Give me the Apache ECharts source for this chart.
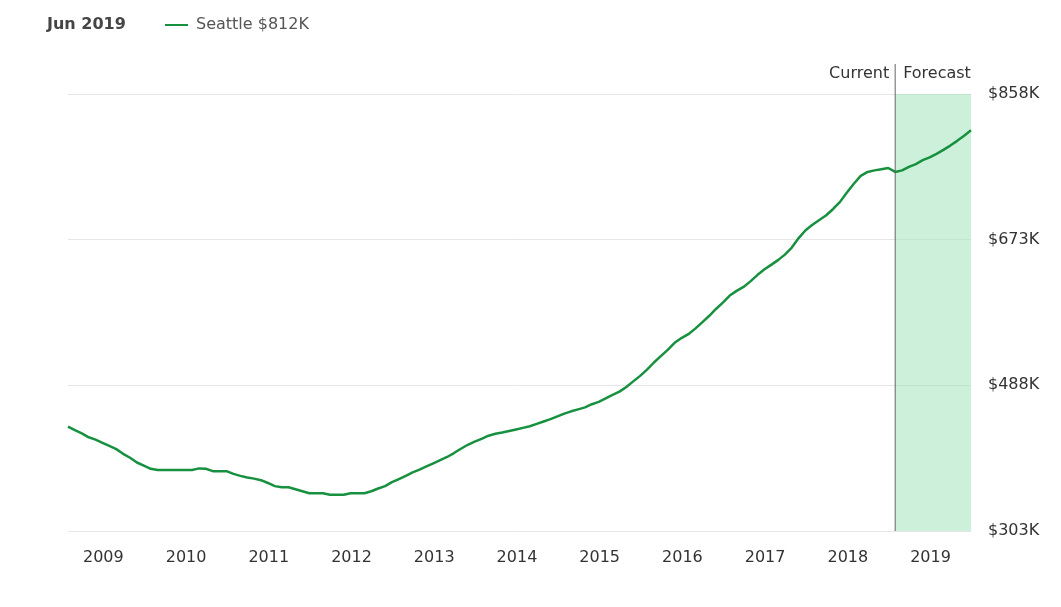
<!DOCTYPE html>
<html>
<head>
<meta charset="utf-8">
<script src="https://cdn.jsdelivr.net/npm/echarts@6/dist/echarts.min.js"></script>
<style>
html,body{margin:0;padding:0;background:#fff;}
#chart{width:1061px;height:607px;}
</style>
</head>
<body>
<div id="chart"></div>
<script>
// Monthly categories Jul 2008 .. Jun 2019
const months = (function(){
  const out = [];
  let y = 2008, m = 7;
  while (y < 2019 || (y === 2019 && m <= 6)) {
    out.push(y + '-' + String(m).padStart(2,'0'));
    m++; if (m > 12) { m = 1; y++; }
  }
  return out;
})();

// Seattle median home value, $K
const seattleValues = [
  435.5, 431, 427, 422, 419, 415, 411, 407, 401, 396, 390, 386,
  382, 380.5, 380.5, 380.5, 380.5, 380.5, 380.5, 382.5, 382, 379, 379, 379,
  375.5, 373, 371, 369.5, 367.5, 364, 360, 358.5, 358.5, 356, 353.5, 351,
  351, 351, 349, 349, 349, 351, 351, 351, 353.5, 357, 360, 365,
  369, 373, 377.5, 381, 385, 389, 393, 397, 402, 407.5, 412.5, 416.5,
  420, 424, 426.5, 428, 430, 432, 434, 436, 439, 442, 445, 448.5,
  452, 455, 457.5, 460, 464, 467, 471.5, 476, 480, 486, 493, 500,
  508, 517, 525, 533, 542, 548, 553, 560, 568, 576, 585, 593,
  602, 608, 613, 620, 628, 635, 641, 647, 654, 663, 675, 685,
  692, 698, 704, 712, 721, 733, 744, 754, 759, 761, 762.5, 764,
  759, 761, 765.5, 769, 774, 777.5, 782, 787, 792.5, 798.5, 805, 812
];

const yTicks = [303, 488, 673, 858];
const currentMonth = '2018-07';
const headerDate = 'Jun 2019';
const seriesName = 'Seattle';

const FONT = '"DejaVu Sans", sans-serif';
const GREEN = '#17913f';

const chart = echarts.init(document.getElementById('chart'), null, {renderer: 'canvas'});

const option = {
  animation: false,
  backgroundColor: '#fff',
  textStyle: {fontFamily: FONT},
  title: {
    text: headerDate,
    left: 47, top: 17, padding: 0,
    textStyle: {fontSize: 16, fontWeight: 'bold', color: '#444', fontFamily: FONT}
  },
  legend: {
    left: 165, top: 17, padding: 0,
    icon: 'rect', itemWidth: 23, itemHeight: 2, itemGap: 8,
    data: [seriesName],
    formatter: function(name){ return name + ' $' + seattleValues[seattleValues.length-1] + 'K'; },
    textStyle: {fontSize: 16, color: '#555', fontFamily: FONT, padding: [0,0,0,3]}
  },
  grid: {left: 68, right: 90, top: 94, bottom: 76, containLabel: false},
  xAxis: {
    type: 'category',
    data: months,
    boundaryGap: false,
    axisLine: {show: false},
    axisTick: {show: false},
    splitLine: {show: false},
    axisLabel: {
      interval: function(i, v){ return v.slice(5) === '01'; },
      formatter: function(v){ return v.slice(0,4); },
      fontSize: 16, color: '#333', fontFamily: FONT, margin: 19,
      padding: [0, 12, 0, 0]
    }
  },
  yAxis: {
    type: 'value',
    position: 'right',
    min: yTicks[0], max: yTicks[yTicks.length-1],
    axisLine: {show: false},
    axisTick: {show: false, customValues: yTicks},
    splitLine: {show: true, lineStyle: {color: '#e6e6e6', width: 1}},
    axisLabel: {
      customValues: yTicks,
      formatter: function(v){ return '$' + v + 'K'; },
      fontSize: 16, color: '#333', fontFamily: FONT, margin: 17
    }
  },
  series: [{
    name: seriesName,
    type: 'line',
    data: seattleValues,
    showSymbol: false,
    symbol: 'none',
    lineStyle: {color: GREEN, width: 2.5},
    itemStyle: {color: GREEN},
    z: 5,
    markArea: {
      silent: true,
      itemStyle: {color: 'rgba(155,226,182,0.5)'},
      data: [[{xAxis: currentMonth}, {xAxis: months[months.length-1]}]]
    }
  }]
};

chart.setOption(option);

const xCur = chart.convertToPixel({xAxisIndex: 0}, currentMonth);
const yBottom = chart.convertToPixel({yAxisIndex: 0}, yTicks[0]);
chart.setOption({
  graphic: [
    {type: 'line', z: 10, shape: {x1: xCur, y1: 64, x2: xCur, y2: yBottom},
     style: {stroke: '#666', lineWidth: 1}},
    {type: 'text', z: 10, x: xCur - 6, y: 74,
     style: {text: 'Current', align: 'right', verticalAlign: 'middle', fill: '#333', font: '16px ' + FONT}},
    {type: 'text', z: 10, x: xCur + 8, y: 74,
     style: {text: 'Forecast', align: 'left', verticalAlign: 'middle', fill: '#333', font: '16px ' + FONT}}
  ]
});
</script>
</body>
</html>
